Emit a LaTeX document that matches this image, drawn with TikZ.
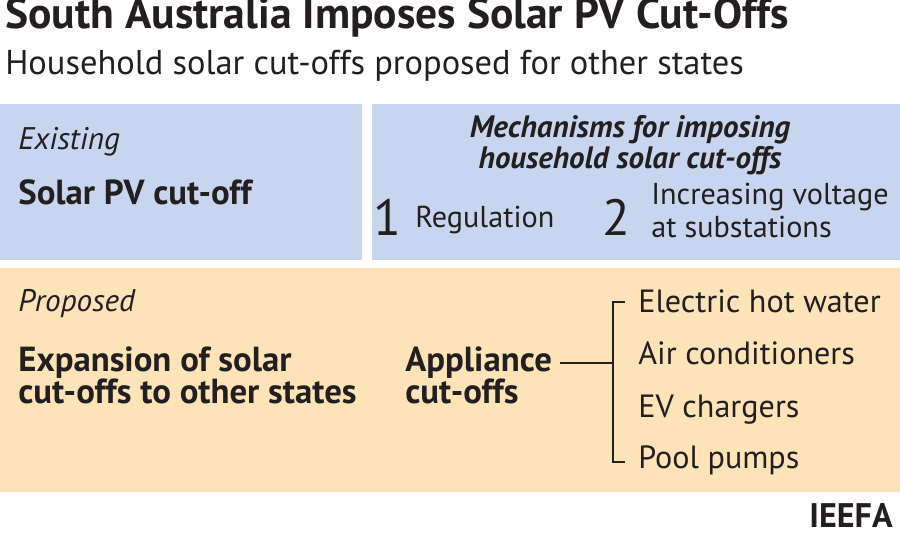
\documentclass[tikz,border=0pt]{standalone}
\usepackage{fontspec}
\setmainfont{PT Sans}
\usetikzlibrary{positioning}
\definecolor{boxblue}{RGB}{199,214,238}
\definecolor{boxorange}{RGB}{253,228,184}
\definecolor{ink}{RGB}{35,31,32}
\tikzset{
    txt/.style={anchor=base west, inner sep=0pt, text=ink},
    ctxt/.style={anchor=base, inner sep=0pt, text=ink},
    rtxt/.style={anchor=base east, inner sep=0pt, text=ink},
    head/.style={font=\fontsize{24.8}{28}\selectfont\bfseries},
    subhead/.style={font=\fontsize{19.6}{23}\selectfont},
    tag/.style={font=\fontsize{17.8}{21}\selectfont\itshape},
    big/.style={font=\fontsize{19.8}{23}\selectfont\bfseries},
    mech/.style={font=\fontsize{17.6}{21}\selectfont\bfseries\itshape},
    plain/.style={font=\fontsize{17.2}{20}\selectfont},
    item/.style={font=\fontsize{18.3}{21}\selectfont},
    digit/.style={font=\fontsize{29}{32}\selectfont},
    logo/.style={font=\fontsize{19.4}{22}\selectfont\bfseries},
    bracket/.style={draw=ink, line width=0.6pt}
}

\begin{document}
\begin{tikzpicture}[x=0.02cm, y=-0.02cm]
\useasboundingbox (0,0) rectangle (900,540);

\fill[boxblue] (0,104) rectangle (362,260);
\fill[boxblue] (372,104) rectangle (900,260);
\fill[boxorange] (0,268) rectangle (900,492);

\node[txt, head] (title) at (5,29) {South Australia Imposes Solar PV Cut-Offs};
\node[txt, subhead] (sub) at (5,75) {Household solar cut-offs proposed for other states};
%%
\node[txt, tag] (exist) at (18,150) {Existing};
\node[txt, big] (solar) at (18,205) {Solar PV cut-off};

\node[ctxt, mech] (mech1) at (630,138) {Mechanisms for imposing};
\node[ctxt, mech] (mech2) at (630,169) {household solar cut-offs};

\node[rtxt, digit] (one) at (402,236) {1};
\node[txt, plain] (reg) at (415,228) {Regulation};
\node[rtxt, digit] (two) at (631,236) {2};
\node[txt, plain] (volt1) at (651,205) {Increasing voltage};
\node[txt, plain] (volt2) at (651,238) {at substations};
%%
\node[txt, tag] (prop) at (18,312) {Proposed};
\node[txt, big] (exp1) at (18,372) {Expansion of solar};
\node[txt, big] (exp2) at (18,404) {cut-offs to other states};

\node[txt, big] (appl) at (405,372) {Appliance};
\node[txt, big] (appl2) at (405,404) {cut-offs};

\node[txt, item] (hot) at (638,313) {Electric hot water};
\node[txt, item] (air) at (638,365) {Air conditioners};
\node[txt, item] (ev) at (638,418) {EV chargers};
\node[txt, item] (pool) at (638,469) {Pool pumps};
%
\coordinate (brtop) at (613,302);
\coordinate (brmid) at (613,363);
\coordinate (brbot) at (613,462);
\coordinate (ticktop) at (625,302);
\coordinate (tickbot) at (625,462);

\draw[bracket] (ticktop) -- (brtop) -- (brbot) -- (tickbot);
\draw[bracket] ([xshift=4.5pt]appl.east |- brmid) -- (brmid);

\node[rtxt, logo] (ieefa) at (893,528) {IEEFA};
\end{tikzpicture}
\end{document}
